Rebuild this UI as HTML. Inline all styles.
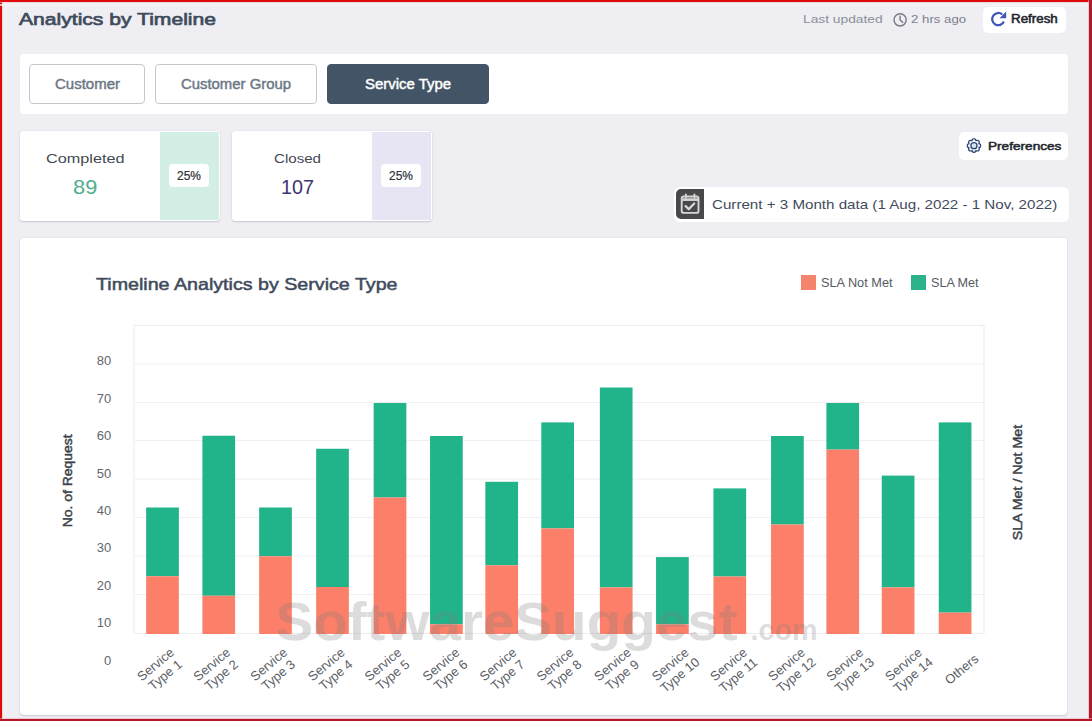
<!DOCTYPE html>
<html lang="en"><head><meta charset="utf-8"><title>Analytics by Timeline</title>
<style>
html,body{margin:0;padding:0}
body{width:1092px;height:721px;overflow:hidden;background:#eeeef3;font-family:'Liberation Sans',sans-serif;position:relative}
h1,h2{margin:0;font-weight:400}
button{all:unset;box-sizing:border-box;position:absolute;display:block;cursor:pointer}
.abs,.tx,.chart{position:absolute}
i.abs{display:block}
.tx{white-space:nowrap;line-height:1;transform-origin:0 50%;display:block;font-weight:400}
.frame-t{left:0;top:0;width:1092px;height:1.8px;background:#df0a0a;box-shadow:0 1px 0 rgba(245,200,205,.55),0 4px 0 rgba(246,244,247,.75)}
.frame-l{left:0;top:0;width:2.1px;height:721px;background:#df0a0a;box-shadow:1px 0 0 rgba(245,200,205,.55),4.5px 0 0 rgba(248,242,246,.75)}
.frame-r{left:1089.3px;top:0;width:2.7px;height:721px;background:#b5172a;box-shadow:-1px 0 0 rgba(235,175,185,.5)}
.frame-b{left:0;top:718.8px;width:1092px;height:2.2px;background:#b5172a;box-shadow:0 -1px 0 rgba(240,170,180,.55)}
.card{background:#fff;border-radius:3px;box-shadow:0 1px 1.5px rgba(110,110,130,.28),0 0 2px rgba(120,120,140,.12)}
.tabs{left:20px;top:54px;width:1048px;height:60px;border-radius:4px;background:#fff}
.tab{top:10px;height:40px;border:1px solid #c3c8ce;border-radius:4px;background:#fff}
.tab.on{background:#425466;border-color:#425466}
.stat{top:130.5px;width:199.5px;height:90px;overflow:hidden}
.stat>i{position:absolute;right:1px;top:1px;width:58.5px;height:88.2px;display:block}
.badge{top:33.5px;width:40px;height:23px;border-radius:4px;background:#fff}
.btn{background:#fff;border-radius:5px}
.datebar{background:#fff;border-radius:6px}
.chart{left:-20px;top:-238px}
</style></head><body>
<header>
<h1 class="tx" style="left:19.3px;top:10.54px;font-size:17.2px;color:#3f4b5c;-webkit-text-stroke:0.7px #3f4b5c;transform:scaleX(1.2275)">Analytics by Timeline</h1>
<div class="abs updated" style="left:800px;top:8px;width:172px;height:24px">
<span class="tx" style="left:3.0px;top:4.78px;font-size:11.6px;color:#8b9099;transform:scaleX(1.1872)">Last updated</span>
<svg class="abs" style="left:92px;top:4px" width="16" height="16" viewBox="0 0 16 16"><circle cx="8.1" cy="7.8" r="6.1" fill="none" stroke="#777d86" stroke-width="1.45"/><path d="M8.1 4.3V8l2.5 2.3" fill="none" stroke="#777d86" stroke-width="1.45" stroke-linecap="round" stroke-linejoin="round"/></svg>
<span class="tx" style="left:111.2px;top:4.88px;font-size:11.6px;color:#7c828b;transform:scaleX(1.1418)">2 hrs ago</span>
</div>
<button class="btn" style="left:983px;top:6.5px;width:83px;height:26.5px">
<svg class="abs" style="left:6px;top:3.5px" width="20" height="20" viewBox="989 10 20 20"><path d="M1003.9 21.5A6.1 6.1 0 1 1 1002.3 14.5" fill="none" stroke="#3f58b8" stroke-width="2.25"/><path d="M1006.2 11.6V18.3H999.5Z" fill="#3f58b8"/></svg>
<span class="tx" style="left:28.2px;top:6.74px;font-size:12px;color:#23272e;-webkit-text-stroke:0.55px #23272e;transform:scaleX(1.1135)">Refresh</span>
</button>
</header>
<nav class="abs tabs">
<button class="tab" style="left:9px;width:116px"><span class="tx" style="left:24.5px;top:11.71px;font-size:14.4px;color:#6c7885;-webkit-text-stroke:0.45px #6c7885;transform:scaleX(1.0418)">Customer</span></button>
<button class="tab" style="left:135px;width:162px"><span class="tx" style="left:25.0px;top:11.71px;font-size:14.4px;color:#6c7885;-webkit-text-stroke:0.45px #6c7885;transform:scaleX(1.0341)">Customer Group</span></button>
<button class="tab on" style="left:307px;width:162px"><span class="tx" style="left:37.0px;top:11.71px;font-size:14.4px;color:#ffffff;-webkit-text-stroke:0.45px #ffffff;transform:scaleX(1.0371)">Service Type</span></button>
</nav>
<section>
<div class="abs card stat" style="left:20px"><i style="background:#d3eee4"></i><span class="tx" style="left:26.1px;top:21.90px;font-size:13px;color:#444a52;transform:scaleX(1.2485)">Completed</span><span class="tx" style="left:53.2px;top:46.90px;font-size:20.2px;color:#4fae8c;transform:scaleX(1.0815)">89</span><div class="abs badge" style="left:149px"><span class="tx" style="left:7.5px;top:6.14px;font-size:12px;color:#2d3138;-webkit-text-stroke:0.2px #2d3138;transform:scaleX(0.9945)">25%</span></div></div>
<div class="abs card stat" style="left:232px"><i style="background:#e7e5f4"></i><span class="tx" style="left:42.0px;top:21.90px;font-size:13px;color:#444a52;transform:scaleX(1.1614)">Closed</span><span class="tx" style="left:49.0px;top:46.90px;font-size:20.2px;color:#3d3573;transform:scaleX(0.9796)">107</span><div class="abs badge" style="left:149px"><span class="tx" style="left:7.5px;top:6.14px;font-size:12px;color:#2d3138;-webkit-text-stroke:0.2px #2d3138;transform:scaleX(0.9945)">25%</span></div></div>
<button class="btn" style="left:959px;top:132px;width:109px;height:28px">
<svg class="abs" style="left:5px;top:4px" width="20" height="20" viewBox="964 136 20 20"><g fill="#f1f5fc" stroke="#2f4570" stroke-width="1.2"><circle cx="973.95" cy="150.30" r="2.05"/><circle cx="970.66" cy="148.94" r="2.05"/><circle cx="969.30" cy="145.65" r="2.05"/><circle cx="970.66" cy="142.36" r="2.05"/><circle cx="973.95" cy="141.00" r="2.05"/><circle cx="977.24" cy="142.36" r="2.05"/><circle cx="978.60" cy="145.65" r="2.05"/><circle cx="977.24" cy="148.94" r="2.05"/></g><circle cx="973.95" cy="145.65" r="4.95" fill="#f1f5fc"/><circle cx="973.95" cy="145.65" r="3.05" fill="#d9e5f8" stroke="#2f4570" stroke-width="1.25"/></svg>
<span class="tx" style="left:28.6px;top:8.71px;font-size:11.8px;color:#23272e;-webkit-text-stroke:0.55px #23272e;transform:scaleX(1.1539)">Preferences</span>
</button>
<div class="abs datebar" style="left:674px;top:186.5px;width:395px;height:35px">
<div class="abs" style="left:2px;top:2.5px;width:28px;height:30px;background:#48484b;border-radius:5px 0 0 5px">
<svg class="abs" style="left:2px;top:3px" width="24" height="24" viewBox="0 0 24 24" fill="none" stroke="#d6d6d6" stroke-width="1.9" stroke-linecap="round" stroke-linejoin="round"><rect x="3.7" y="4.5" width="16.8" height="16.4" rx="2"/><path d="M4.2 7.6H20" stroke-width="2.7" stroke-linecap="butt"/><path d="M7.9 2.4V5.4M16.4 2.4V5.4"/><path d="M7.6 14.1l3.2 3 5.4-5.6" stroke-width="2.3"/></svg>
</div>
<span class="tx" style="left:38.2px;top:11.43px;font-size:13.2px;color:#3f4b5c;transform:scaleX(1.1484)">Current + 3 Month data (1 Aug, 2022 - 1 Nov, 2022)</span>
</div>
</section>
<main class="abs card" style="left:20px;top:238px;width:1047px;height:477px;border-radius:4px">
<h2 class="tx" style="left:75.8px;top:39.05px;font-size:16.6px;color:#3f4b5c;-webkit-text-stroke:0.5px #3f4b5c;transform:scaleX(1.1845)">Timeline Analytics by Service Type</h2>
<div class="abs legend" style="left:781px;top:37px;width:185px;height:15px">
<i class="abs" style="left:0;top:0;width:15px;height:15px;background:#f4846c"></i><span class="tx" style="left:20.4px;top:1.10px;font-size:13px;color:#555b63;transform:scaleX(0.9797)">SLA Not Met</span>
<i class="abs" style="left:110px;top:0;width:15px;height:15px;background:#2db38c"></i><span class="tx" style="left:130.4px;top:1.10px;font-size:13px;color:#555b63;transform:scaleX(0.9686)">SLA Met</span>
</div>
<svg class="chart" width="1092" height="721" viewBox="0 0 1092 721">
<rect x="134.0" y="325.5" width="850.0" height="308.0" fill="none" stroke="#eeeef0" stroke-width="1.2"/>
<line x1="134.0" x2="984.0" y1="364" y2="364" stroke="#f0f0f2" stroke-width="1.2"/>
<line x1="134.0" x2="984.0" y1="402.5" y2="402.5" stroke="#f0f0f2" stroke-width="1.2"/>
<line x1="134.0" x2="984.0" y1="440.5" y2="440.5" stroke="#f0f0f2" stroke-width="1.2"/>
<line x1="134.0" x2="984.0" y1="479" y2="479" stroke="#f0f0f2" stroke-width="1.2"/>
<line x1="134.0" x2="984.0" y1="517.5" y2="517.5" stroke="#f0f0f2" stroke-width="1.2"/>
<line x1="134.0" x2="984.0" y1="556" y2="556" stroke="#f0f0f2" stroke-width="1.2"/>
<line x1="134.0" x2="984.0" y1="594.5" y2="594.5" stroke="#f0f0f2" stroke-width="1.2"/>
<rect x="146.15" y="507.5" width="32.7" height="68.75" fill="#21b48a"/>
<rect x="146.15" y="576.25" width="32.7" height="57.75" fill="#fc7f69"/>
<rect x="202.40" y="435.75" width="32.7" height="160.00" fill="#21b48a"/>
<rect x="202.40" y="595.75" width="32.7" height="38.25" fill="#fc7f69"/>
<rect x="259.15" y="507.5" width="32.7" height="48.75" fill="#21b48a"/>
<rect x="259.15" y="556.25" width="32.7" height="77.75" fill="#fc7f69"/>
<rect x="316.15" y="448.75" width="32.7" height="138.25" fill="#21b48a"/>
<rect x="316.15" y="587" width="32.7" height="47.00" fill="#fc7f69"/>
<rect x="373.65" y="403" width="32.7" height="94.50" fill="#21b48a"/>
<rect x="373.65" y="497.5" width="32.7" height="136.50" fill="#fc7f69"/>
<rect x="430.05" y="436" width="32.7" height="188.30" fill="#21b48a"/>
<rect x="430.05" y="624.3" width="32.7" height="9.70" fill="#fc7f69"/>
<rect x="485.35" y="481.8" width="32.7" height="83.50" fill="#21b48a"/>
<rect x="485.35" y="565.3" width="32.7" height="68.70" fill="#fc7f69"/>
<rect x="541.30" y="422.4" width="32.7" height="106.00" fill="#21b48a"/>
<rect x="541.30" y="528.4" width="32.7" height="105.60" fill="#fc7f69"/>
<rect x="599.85" y="387.5" width="32.7" height="199.90" fill="#21b48a"/>
<rect x="599.85" y="587.4" width="32.7" height="46.60" fill="#fc7f69"/>
<rect x="656.05" y="557.1" width="32.7" height="67.20" fill="#21b48a"/>
<rect x="656.05" y="624.3" width="32.7" height="9.70" fill="#fc7f69"/>
<rect x="713.45" y="488.4" width="32.7" height="88.10" fill="#21b48a"/>
<rect x="713.45" y="576.5" width="32.7" height="57.50" fill="#fc7f69"/>
<rect x="771.05" y="436" width="32.7" height="88.50" fill="#21b48a"/>
<rect x="771.05" y="524.5" width="32.7" height="109.50" fill="#fc7f69"/>
<rect x="826.40" y="403" width="32.7" height="46.60" fill="#21b48a"/>
<rect x="826.40" y="449.6" width="32.7" height="184.40" fill="#fc7f69"/>
<rect x="881.75" y="475.6" width="32.7" height="111.80" fill="#21b48a"/>
<rect x="881.75" y="587.4" width="32.7" height="46.60" fill="#fc7f69"/>
<rect x="938.75" y="422.4" width="32.7" height="190.20" fill="#21b48a"/>
<rect x="938.75" y="612.6" width="32.7" height="21.40" fill="#fc7f69"/>
<g font-family="'Liberation Sans', sans-serif" font-size="13" fill="#62676e" text-anchor="end">
<text x="111.3" y="365.4">80</text>
<text x="111.3" y="402.8">70</text>
<text x="111.3" y="440.2">60</text>
<text x="111.3" y="477.6">50</text>
<text x="111.3" y="515.0">40</text>
<text x="111.3" y="552.4">30</text>
<text x="111.3" y="589.8">20</text>
<text x="111.3" y="627.2">10</text>
<text x="111.3" y="664.6">0</text>
</g>
<g font-family="'Liberation Sans', sans-serif" font-size="13" fill="#3d434b" stroke="#3d434b" stroke-width="0.45" text-anchor="middle">
<text transform="translate(72.1,480.8) rotate(-90)" textLength="93" lengthAdjust="spacingAndGlyphs">No. of Request</text>
<text transform="translate(1022.4,482.6) rotate(-90)" textLength="115.5" lengthAdjust="spacingAndGlyphs">SLA Met / Not Met</text>
</g>
<g font-family="'Liberation Sans', sans-serif" font-size="13" fill="#5b6067" text-anchor="middle">
<text transform="translate(158.4,667.7) rotate(-40)">Service</text>
<text transform="translate(168.0,678.42) rotate(-40)">Type 1</text>
<text transform="translate(214.6,667.7) rotate(-40)">Service</text>
<text transform="translate(224.2,678.42) rotate(-40)">Type 2</text>
<text transform="translate(271.6,667.7) rotate(-40)">Service</text>
<text transform="translate(281.2,678.42) rotate(-40)">Type 3</text>
<text transform="translate(329.1,667.7) rotate(-40)">Service</text>
<text transform="translate(338.7,678.42) rotate(-40)">Type 4</text>
<text transform="translate(385.9,667.7) rotate(-40)">Service</text>
<text transform="translate(395.5,678.42) rotate(-40)">Type 5</text>
<text transform="translate(443.9,667.7) rotate(-40)">Service</text>
<text transform="translate(453.5,678.42) rotate(-40)">Type 6</text>
<text transform="translate(500.9,667.7) rotate(-40)">Service</text>
<text transform="translate(510.5,678.42) rotate(-40)">Type 7</text>
<text transform="translate(557.9,667.7) rotate(-40)">Service</text>
<text transform="translate(567.5,678.42) rotate(-40)">Type 8</text>
<text transform="translate(615.4,667.7) rotate(-40)">Service</text>
<text transform="translate(625.0,678.42) rotate(-40)">Type 9</text>
<text transform="translate(673.1,667.7) rotate(-40)">Service</text>
<text transform="translate(682.7,678.42) rotate(-40)">Type 10</text>
<text transform="translate(731.4,667.7) rotate(-40)">Service</text>
<text transform="translate(741.0,678.42) rotate(-40)">Type 11</text>
<text transform="translate(789.4,667.7) rotate(-40)">Service</text>
<text transform="translate(799.0,678.42) rotate(-40)">Type 12</text>
<text transform="translate(847.6,667.7) rotate(-40)">Service</text>
<text transform="translate(857.2,678.42) rotate(-40)">Type 13</text>
<text transform="translate(906.4,667.7) rotate(-40)">Service</text>
<text transform="translate(916.0,678.42) rotate(-40)">Type 14</text>
<text text-anchor="end" transform="translate(979.4,660.2) rotate(-40)">Others</text>
</g>
<text x="275.5" y="640" font-family="'Liberation Sans', sans-serif" font-weight="700" font-size="53" fill="#7d7d7d" fill-opacity="0.27" textLength="462" lengthAdjust="spacingAndGlyphs">SoftwareSuggest</text>
<text x="750.5" y="640" font-family="'Liberation Sans', sans-serif" font-weight="700" font-size="30" fill="#7d7d7d" fill-opacity="0.27" textLength="67" lengthAdjust="spacingAndGlyphs">.com</text>
</svg>
</main>
<div class="abs frame-l"></div><div class="abs frame-t"></div><div class="abs frame-r"></div><div class="abs frame-b"></div>
</body></html>
